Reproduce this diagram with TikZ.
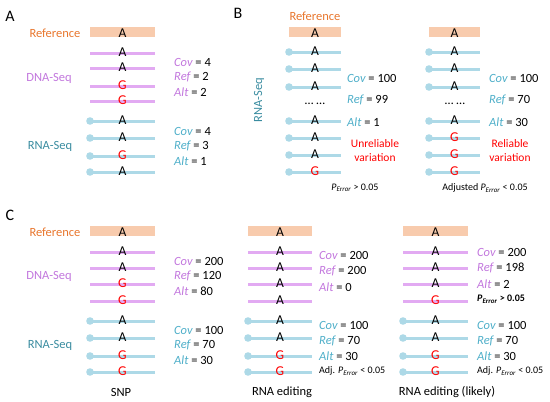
\documentclass[tikz,border=0pt]{standalone}
\usepackage{fontspec}
\setmainfont{Carlito}
\usepackage{xcolor}
\usetikzlibrary{positioning}

\definecolor{refFill}{HTML}{F8CBAD}
\definecolor{refText}{HTML}{E8762D}
\definecolor{dnaCol}{HTML}{E2AAF2}
\definecolor{dnaText}{HTML}{C277DD}
\definecolor{rnaCol}{HTML}{ADD9E7}
\definecolor{rnaText}{HTML}{3A8CA0}
\definecolor{rnaStat}{HTML}{4FAFC9}
\definecolor{altRed}{HTML}{FF0000}

\newcommand{\Galt}{\textcolor{altRed}{G}}
\newcommand{\dstat}[1]{\textit{\textcolor{dnaText}{#1}}}
\newcommand{\rstat}[1]{\textit{\textcolor{rnaStat}{#1}}}
\newcommand{\perr}{\textit{P}\textsubscript{\textit{Error}}}

% reference box: left, right, middle y
\newcommand{\refbox}[3]{%
    \fill[refFill] (#1,#3-5) rectangle (#2,#3+5);
    \node[letter] (ref#1-#3) at ({(#1+#2)/2},#3+5) {A};}
% DNA read: left, right, y, base
\newcommand{\dnaread}[4]{%
    \draw[dnaLine] (#1,#3) -- (#2,#3);
    \node[letter] (d#1-#3) at ({(#1+#2)/2},#3+3) {#4};}
% RNA read: left, right, y, base
\newcommand{\rnaread}[4]{%
    \draw[rnaLine] (#1,#3) -- (#2,#3);
    \fill[rnaCol] (#1,#3) circle (3.8);
    \node[letter] (r#1-#3) at ({(#1+#2)/2},#3+3) {#4};}

\tikzset{
    letter/.style={anchor=base, inner sep=0pt, font=\fontsize{13.5}{13.5}\selectfont},
    dnaLine/.style={draw=dnaCol, line width=3pt},
    rnaLine/.style={draw=rnaCol, line width=3pt},
    stat/.style={anchor=west, inner sep=0pt, font=\fontsize{12.5}{12.5}\selectfont},
    small/.style={inner sep=0pt, font=\fontsize{10}{10}\selectfont},
    label/.style={inner sep=0pt, font=\fontsize{12.5}{12.5}\selectfont},
    panel/.style={inner sep=0pt, font=\fontsize{16}{16}\selectfont},
}

\begin{document}
\begin{tikzpicture}[x=1pt, y=-1pt]
    \useasboundingbox (0,0) rectangle (550,402);

    % Panel A
    \node[panel] (panelA) at (10,16) {A};
    \node[label, text=refText] (refA) at (55,33) {Reference};
    \node[label, text=dnaText] (dnaA) at (49,78) {DNA-Seq};
    \node[label, text=rnaText] (rnaA) at (50,146) {RNA-Seq};
    \refbox{90}{155}{32}
    \dnaread{90}{155}{53}{A}
    \dnaread{90}{155}{68}{A}
    \dnaread{90}{155}{86}{\Galt}
    \dnaread{90}{155}{101}{\Galt}
    \rnaread{90}{155}{121}{A}
    \rnaread{90}{155}{138}{A}
    \rnaread{90}{155}{156}{\Galt}
    \rnaread{90}{155}{172}{A}
    \node[stat] (covDA) at (174,62) {\dstat{Cov} = 4};
    \node[stat] (refDA) at (174,77) {\dstat{Ref} = 2};
    \node[stat] (altDA) at (174,92) {\dstat{Alt} = 2};
    \node[stat] (covRA) at (174,131) {\rstat{Cov} = 4};
    \node[stat] (refRA) at (174,146) {\rstat{Ref} = 3};
    \node[stat] (altRA) at (174,161) {\rstat{Alt} = 1};

    % Panel B
    \node[panel] (panelB) at (238,13) {B};
    \node[label, text=refText] (refB) at (315,16) {Reference};
    \node[label, text=rnaText, rotate=90] (rnaB) at (259,100) {RNA-Seq};
    \refbox{289}{341}{32}
    \rnaread{289}{341}{52}{A}
    \rnaread{289}{341}{69}{A}
    \rnaread{289}{341}{87}{A}
    \node[label] (dotsB) at (315,104) {\dots\ \dots};
    \rnaread{289}{341}{121}{A}
    \rnaread{289}{341}{138}{A}
    \rnaread{289}{341}{155}{A}
    \rnaread{289}{341}{172}{\Galt}
    \node[stat] (covB) at (347,78) {\rstat{Cov} = 100};
    \node[stat] (refBs) at (347,100) {\rstat{Ref} = 99};
    \node[stat] (altB) at (347,122) {\rstat{Alt} = 1};
    \node[label, text=altRed, align=center, font=\fontsize{11.5}{14}\selectfont] (unrel) at (375,151) {Unreliable\\variation};
    \node[small] (pB) at (355,188) {\perr\ > 0.05};

    \refbox{429}{480}{32}
    \rnaread{429}{480}{52}{A}
    \rnaread{429}{480}{69}{A}
    \rnaread{429}{480}{87}{A}
    \node[label] (dotsB2) at (455,104) {\dots\ \dots};
    \rnaread{429}{480}{121}{A}
    \rnaread{429}{480}{138}{\Galt}
    \rnaread{429}{480}{155}{\Galt}
    \rnaread{429}{480}{172}{\Galt}
    \node[stat] (covB2) at (489,78) {\rstat{Cov} = 100};
    \node[stat] (refB2) at (489,100) {\rstat{Ref} = 70};
    \node[stat] (altB2) at (489,122) {\rstat{Alt} = 30};
    \node[label, text=altRed, align=center, font=\fontsize{11.5}{14}\selectfont] (rel) at (510,151) {Reliable\\variation};
    \node[small] (pB2) at (485,188) {Adjusted \perr\ < 0.05};

    % Panel C
    \node[panel] (panelC) at (10,215) {C};
    \node[label, text=refText] (refC) at (55,232) {Reference};
    \node[label, text=dnaText] (dnaC) at (49,276) {DNA-Seq};
    \node[label, text=rnaText] (rnaC) at (50,345) {RNA-Seq};

    % SNP
    \refbox{90}{155}{231}
    \dnaread{90}{155}{252}{A}
    \dnaread{90}{155}{268}{A}
    \dnaread{90}{155}{284}{\Galt}
    \dnaread{90}{155}{301}{\Galt}
    \rnaread{90}{155}{321}{A}
    \rnaread{90}{155}{338}{A}
    \rnaread{90}{155}{356}{\Galt}
    \rnaread{90}{155}{372}{\Galt}
    \node[stat] (covDC1) at (174,261) {\dstat{Cov} = 200};
    \node[stat] (refDC1) at (174,276) {\dstat{Ref} = 120};
    \node[stat] (altDC1) at (174,291) {\dstat{Alt} = 80};
    \node[stat] (covRC1) at (174,330) {\rstat{Cov} = 100};
    \node[stat] (refRC1) at (174,345) {\rstat{Ref} = 70};
    \node[stat] (altRC1) at (174,360) {\rstat{Alt} = 30};
    \node[label] (snp) at (121,392) {SNP};

    % RNA editing
    \refbox{248}{312}{231}
    \dnaread{248}{312}{252}{A}
    \dnaread{248}{312}{268}{A}
    \dnaread{248}{312}{284}{A}
    \dnaread{248}{312}{301}{A}
    \rnaread{248}{312}{321}{A}
    \rnaread{248}{312}{338}{A}
    \rnaread{248}{312}{356}{\Galt}
    \rnaread{248}{312}{372}{\Galt}
    \node[stat] (covDC2) at (319,255) {\dstat{Cov} = 200};
    \node[stat] (refDC2) at (319,271) {\dstat{Ref} = 200};
    \node[stat] (altDC2) at (319,287) {\dstat{Alt} = 0};
    \node[stat] (covRC2) at (319,325) {\rstat{Cov} = 100};
    \node[stat] (refRC2) at (319,341) {\rstat{Ref} = 70};
    \node[stat] (altRC2) at (319,356) {\rstat{Alt} = 30};
    \node[small, anchor=west] (pC2) at (319,371) {Adj. \perr\ < 0.05};
    \node[label] (edit) at (282,392) {RNA editing};

    % RNA editing (likely)
    \refbox{403}{468}{231}
    \dnaread{403}{468}{252}{A}
    \dnaread{403}{468}{268}{A}
    \dnaread{403}{468}{284}{A}
    \dnaread{403}{468}{301}{\Galt}
    \rnaread{403}{468}{321}{A}
    \rnaread{403}{468}{338}{A}
    \rnaread{403}{468}{356}{\Galt}
    \rnaread{403}{468}{372}{\Galt}
    \node[stat] (covDC3) at (477,252) {\dstat{Cov} = 200};
    \node[stat] (refDC3) at (477,268) {\dstat{Ref} = 198};
    \node[stat] (altDC3) at (477,284) {\dstat{Alt} = 2};
    \node[small, anchor=west] (pDC3) at (477,299) {\textbf{\perr\ > 0.05}};
    \node[stat] (covRC3) at (477,325) {\rstat{Cov} = 100};
    \node[stat] (refRC3) at (477,341) {\rstat{Ref} = 70};
    \node[stat] (altRC3) at (477,356) {\rstat{Alt} = 30};
    \node[small, anchor=west] (pC3) at (477,371) {Adj. \perr\ < 0.05};
    \node[label] (likely) at (447,392) {RNA editing (likely)};
\end{tikzpicture}
\end{document}
